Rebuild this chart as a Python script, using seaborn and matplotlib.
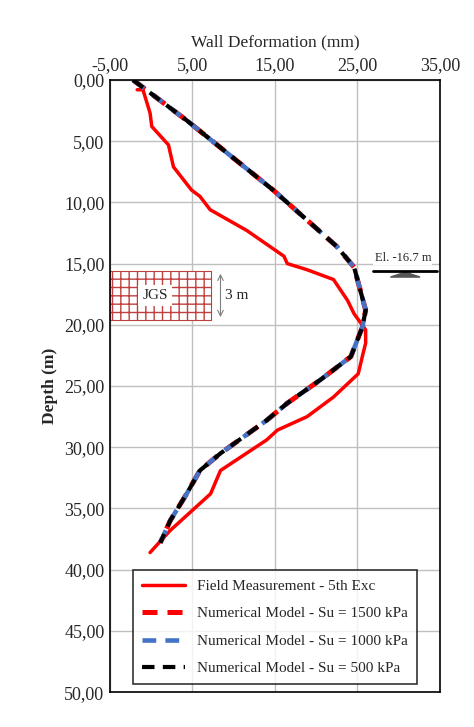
import matplotlib
matplotlib.use("Agg")
import matplotlib.pyplot as plt
import seaborn as sns
import pandas as pd
from matplotlib.patches import Rectangle

field_x = [-1.7, -1.0, -0.14, 0.07, 2.09, 2.7, 4.9, 5.9, 7.15, 11.6, 16.1, 16.5, 18.9, 22.1, 23.8, 24.6, 26.0, 26.0, 25.7, 25.1, 22.1, 18.9, 15.3, 14.0, 8.4, 7.2, 2.3, -0.14]
field_d = [0.8, 0.8, 2.7, 3.8, 5.3, 7.1, 9.0, 9.5, 10.6, 12.3, 14.4, 15.0, 15.5, 16.3, 18.0, 19.1, 20.4, 21.5, 22.3, 24.0, 25.9, 27.5, 28.6, 29.4, 31.9, 33.8, 36.8, 38.6]
num_x = [-2.2, 4.3, 14.8, 22.5, 24.6, 26.0, 25.6, 24.2, 20.5, 16.5, 14.0, 8.4, 5.9, 4.3, 2.3, 1.1]
num_d = [0.0, 3.3, 9.0, 13.6, 15.3, 18.8, 20.2, 22.6, 24.5, 26.4, 27.8, 30.5, 31.9, 33.8, 36.0, 37.8]
labels = ["Field Measurement - 5th Exc", "Numerical Model - Su = 1500 kPa",
          "Numerical Model - Su = 1000 kPa", "Numerical Model - Su = 500 kPa"]
colors = ["#ff0000", "#ff0000", "#4472c4", "#000000"]

sns.set_style("white")
plt.rcParams["font.family"] = ["Liberation Serif", "DejaVu Serif"]

fig = plt.figure(figsize=(4.74, 7.27), dpi=100)
ax = fig.add_axes([0.232, 0.048, 0.696, 0.842])

df_f = pd.DataFrame({"x": field_x, "d": field_d})
df_n = pd.DataFrame({"x": num_x, "d": num_d})
sns.lineplot(data=df_f, x="x", y="d", sort=False, estimator=None, ax=ax,
             color=colors[0], lw=2.5, label=labels[0])
for lab, c, w in zip(labels[1:], colors[1:], [3.6, 3.3, 3.0]):
    sns.lineplot(data=df_n, x="x", y="d", sort=False, estimator=None, ax=ax,
                 color=c, lw=w, ls=(0, (3, 2)), label=lab)

ax.set_xlim(-5, 35)
ax.set_ylim(50, 0)
ax.set_xticks(range(-5, 36, 10))
ax.set_yticks(range(0, 51, 5))
ax.set_xticklabels([f"{v:.2f}".replace(".", ",") for v in range(-5, 36, 10)], fontsize=13)
ax.set_yticklabels([f"{v:.2f}".replace(".", ",") for v in range(0, 51, 5)], fontsize=13)
ax.xaxis.tick_top()
ax.xaxis.set_label_position("top")
ax.set_xlabel("Wall Deformation (mm)", fontsize=12.5, labelpad=8)
ax.set_ylabel("Depth (m)", fontsize=12.5, fontweight="bold")
ax.grid(True, color="#bfbfbf", lw=1)
ax.set_axisbelow(True)
ax.tick_params(length=0, pad=4)
for s in ax.spines.values():
    s.set_color("black"); s.set_linewidth(1.2)

# JGS block
ax.add_patch(Rectangle((-5, 15.6), 12.2, 4.0, facecolor="white", edgecolor="#c04040",
                       hatch="++", lw=0.8, zorder=2))
ax.text(0.5, 17.6, "JGS", ha="center", va="center", fontsize=11, zorder=3,
        bbox=dict(facecolor="white", edgecolor="none", pad=3))
ax.annotate("", xy=(8.4, 15.6), xytext=(8.4, 19.6),
            arrowprops=dict(arrowstyle="<->", color="gray", lw=0.8))
ax.text(9.0, 17.6, "3 m", va="center", fontsize=11)
ax.plot([26.9, 34.7], [15.6, 15.6], color="black", lw=2)
ax.text(30.5, 15.0, "El. -16.7 m", ha="center", va="bottom", fontsize=9,
        bbox=dict(facecolor="white", edgecolor="none", pad=1))
ax.fill([29.0, 32.6, 30.8], [16.1, 16.1, 15.7], color="#555555", hatch="////")

leg = ax.legend(loc="lower center", bbox_to_anchor=(0.5, 0.0), fontsize=11,
                frameon=True, fancybox=False, edgecolor="black", handlelength=2.8,
                borderpad=0.6, labelspacing=0.9)
leg.get_frame().set_linewidth(1.2)

fig.savefig("out.png", dpi=100)
